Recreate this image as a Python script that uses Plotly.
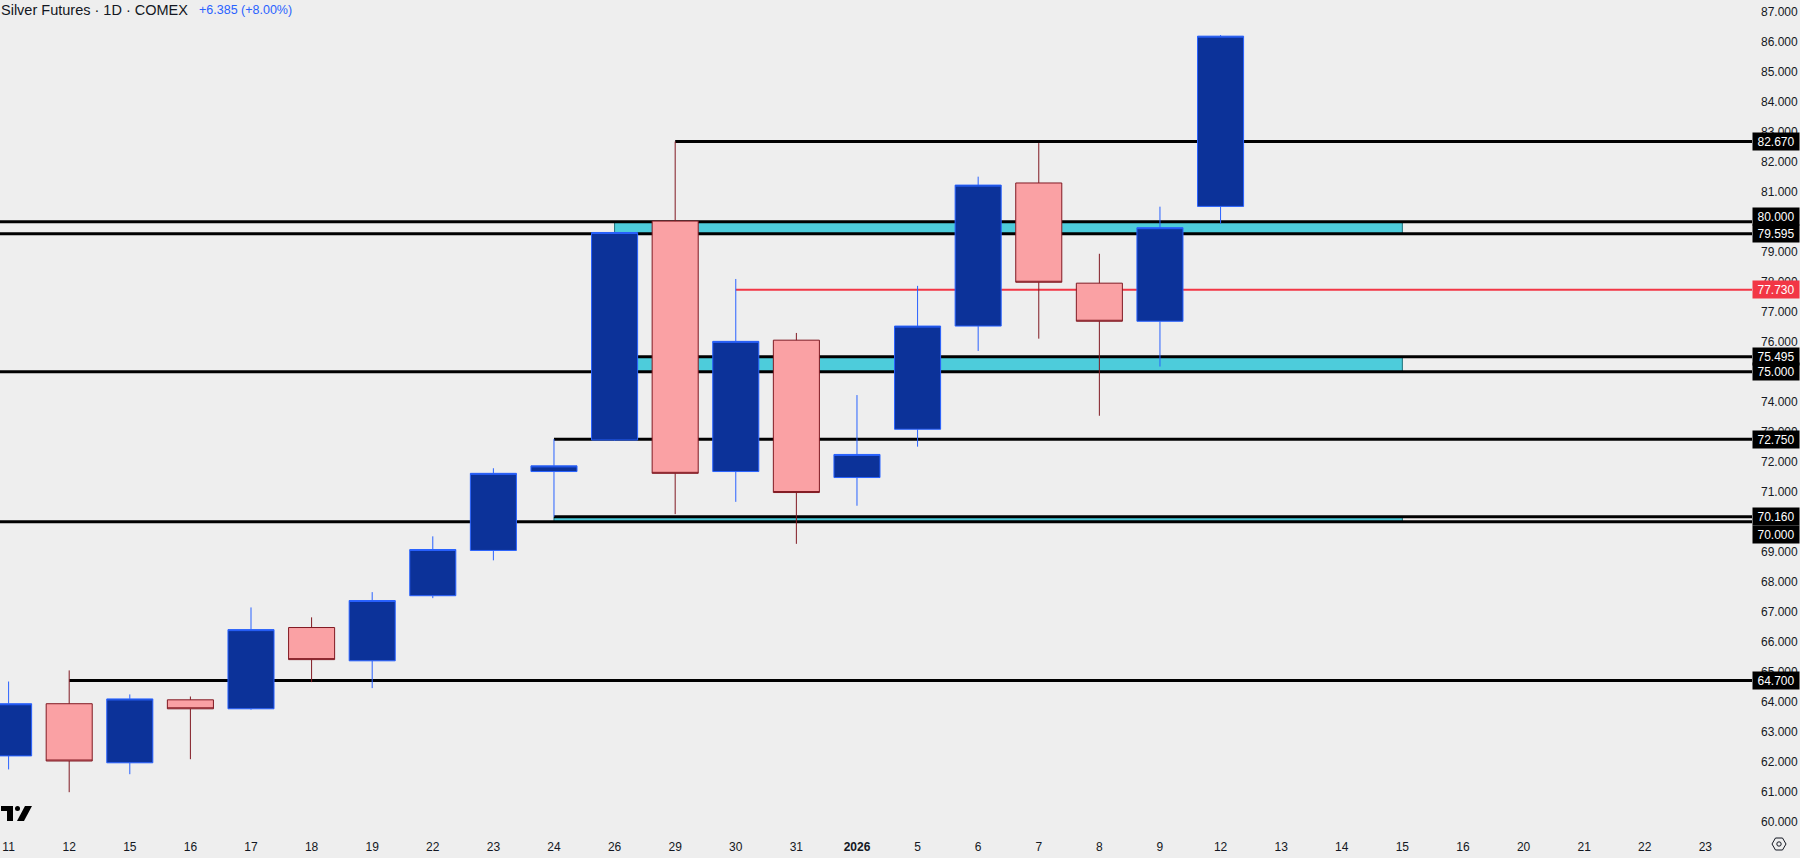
import plotly.graph_objects as go

# ---------------- data ----------------
day_labels = ["11", "12", "15", "16", "17", "18", "19", "22", "23", "24", "26", "29", "30", "31",
              "<b>2026</b>", "5", "6", "7", "8", "9", "12", "13", "14", "15", "16", "20", "21", "22", "23"]

opens  = [62.19, 63.93, 61.96, 64.06, 63.76, 66.47, 65.36, 67.53, 69.04, 71.67, 72.72,
          80.02, 71.67, 76.05, 71.47, 73.08, 76.52, 81.29, 77.95, 76.68, 80.51]
highs  = [64.67, 65.04, 64.24, 64.17, 67.14, 66.81, 67.65, 69.51, 71.78, 72.75, 79.66,
          82.67, 78.09, 76.29, 74.22, 77.86, 81.50, 82.62, 78.93, 80.50, 86.22]
lows   = [61.74, 60.98, 61.58, 62.08, 63.73, 64.65, 64.45, 67.45, 68.71, 70.16, 72.70,
          70.25, 70.66, 69.26, 70.53, 72.50, 75.69, 76.10, 73.53, 75.17, 79.94]
closes = [63.93, 62.02, 64.09, 63.76, 66.40, 65.40, 67.37, 69.07, 71.61, 71.86, 79.64,
          71.61, 76.01, 70.97, 72.24, 76.52, 81.22, 77.98, 76.68, 79.80, 86.185]

# horizontal levels (value, starting bar index; -1 = from left edge)
level_values = [82.67, 80.0, 79.595, 75.495, 75.0, 72.75, 70.16, 70.0, 64.7]
level_starts = [11, -1, -1, 10, -1, 9, 9, -1, 1]
red_level = 77.73
red_level_start = 12

# zones (low, high, start idx, end idx)
zone_lows   = [79.595, 75.0, 70.0]
zone_highs  = [80.0, 75.495, 70.16]
zone_starts = [10, 10, 9]
zone_ends   = [23, 23, 23]

price_ticks = [v for v in range(60, 88) if v not in (70, 75, 80)]

title_text = "Silver Futures · 1D · COMEX"
change_text = "+6.385 (+8.00%)"

# ---------------- style ----------------
BG = "#EEEEEE"
TXT = "#131722"
UP_FILL, UP_LINE = "#0C3299", "#2962FF"
DN_FILL, DN_LINE = "#FAA1A4", "#801922"
CYAN = "#4DCCDB"
FONT = "Liberation Sans"

W, H = 1800, 858
ML, MR, MT, MB = 0, 48, 0, 28
PW, PH = W - ML - MR, H - MT - MB

x_range = [-0.142, 28.77]
y_range = [59.72, 87.39]

# label collision offsets (pixels, like the price scale pushes overlapping labels apart)
label_shift = {80.0: 5, 70.0: -12.6}

fig = go.Figure()
fig.add_trace(go.Candlestick(
    x=list(range(len(opens))), open=opens, high=highs, low=lows, close=closes,
    increasing=dict(fillcolor=UP_FILL, line=dict(color=UP_LINE, width=1)),
    decreasing=dict(fillcolor=DN_FILL, line=dict(color=DN_LINE, width=1)),
    whiskerwidth=0, hoverinfo="skip", showlegend=False,
))

shapes = []
for lo, hi, s, e in zip(zone_lows, zone_highs, zone_starts, zone_ends):
    shapes.append(dict(type="rect", xref="x", yref="y", x0=s, x1=e, y0=lo, y1=hi,
                       fillcolor=CYAN, line=dict(color="#1E6F78", width=1), layer="below"))
for v, s in zip(level_values, level_starts):
    x0 = x_range[0] - 1 if s < 0 else s
    shapes.append(dict(type="line", xref="x", yref="y", x0=x0, x1=40, y0=v, y1=v,
                       line=dict(color="black", width=3), layer="below"))
shapes.append(dict(type="line", xref="x", yref="y", x0=red_level_start, x1=40,
                   y0=red_level, y1=red_level,
                   line=dict(color="#F23645", width=2), layer="below"))


def px(x):
    return (x - ML) / PW


def py(y):
    return (MT + PH - y) / PH


def path(points):
    return "M " + " L ".join(f"{px(a):.5f},{py(b):.5f}" for a, b in points) + " Z"


# TradingView-like logo (decoration)
for pts in [
    [(1, 806), (13, 806), (13, 821), (7, 821), (7, 811), (1, 811)],
    [(25, 806), (32, 806), (24, 821), (17, 821)],
]:
    shapes.append(dict(type="path", xref="paper", yref="paper", path=path(pts),
                       fillcolor="black", line=dict(width=0), layer="above"))
shapes.append(dict(type="circle", xref="paper", yref="paper",
                   x0=px(15), x1=px(20), y0=py(811), y1=py(806),
                   fillcolor="black", line=dict(width=0), layer="above"))
# settings icon
cx, cy, r = 1779, 844, 7
hexpts = [(cx - r, cy), (cx - r / 2, cy - 6), (cx + r / 2, cy - 6), (cx + r, cy),
          (cx + r / 2, cy + 6), (cx - r / 2, cy + 6)]
shapes.append(dict(type="path", xref="paper", yref="paper", path=path(hexpts),
                   line=dict(color=TXT, width=1)))
shapes.append(dict(type="circle", xref="paper", yref="paper",
                   x0=px(cx - 2.2), x1=px(cx + 2.2), y0=py(cy + 2.2), y1=py(cy - 2.2),
                   line=dict(color=TXT, width=1)))

annotations = []
for v in level_values:
    annotations.append(dict(xref="paper", yref="y", x=1, y=v, xanchor="left", yanchor="middle",
                            yshift=label_shift.get(v, 0),
                            text=f"{v:.3f}", showarrow=False, bgcolor="black",
                            font=dict(family=FONT, size=12, color="white"),
                            width=44, height=15, borderpad=1, align="center"))
annotations.append(dict(xref="paper", yref="y", x=1, y=red_level, xanchor="left", yanchor="middle",
                        text=f"{red_level:.3f}", showarrow=False, bgcolor="#F23645",
                        font=dict(family=FONT, size=12, color="white"),
                        width=44, height=15, borderpad=1, align="center"))
annotations.append(dict(xref="paper", yref="paper", x=px(-1), y=py(10), xanchor="left",
                        yanchor="middle", text=title_text, showarrow=False,
                        font=dict(family=FONT, size=14.5, color=TXT)))
annotations.append(dict(xref="paper", yref="paper", x=px(197), y=py(10), xanchor="left",
                        yanchor="middle", text=change_text, showarrow=False,
                        font=dict(family=FONT, size=12.5, color="#2962FF")))

fig.update_layout(
    width=W, height=H, autosize=False,
    margin=dict(l=ML, r=MR, t=MT, b=MB),
    paper_bgcolor=BG, plot_bgcolor=BG,
    boxgap=0.24, boxgroupgap=0,
    shapes=shapes, annotations=annotations,
    font=dict(family=FONT, size=12, color=TXT),
    xaxis=dict(range=x_range, tickmode="array", tickvals=list(range(len(day_labels))),
               ticktext=day_labels, showgrid=False, zeroline=False, showline=False,
               ticks="", rangeslider=dict(visible=False), ticklabelstandoff=8,
               tickfont=dict(family=FONT, size=12, color=TXT), fixedrange=True),
    yaxis=dict(range=y_range, side="right", tickmode="array", tickvals=price_ticks,
               ticktext=[f"{v:.3f}" for v in price_ticks], showgrid=False, zeroline=False,
               showline=False, ticks="", ticklabelstandoff=8,
               tickfont=dict(family=FONT, size=12, color=TXT), fixedrange=True),
    showlegend=False,
)

fig.write_html(
    "out.html",
    config={"displayModeBar": False},
    post_script="document.body.style.margin='0';document.body.style.overflow='hidden';"
                "document.body.style.background='#EEEEEE';",
)
